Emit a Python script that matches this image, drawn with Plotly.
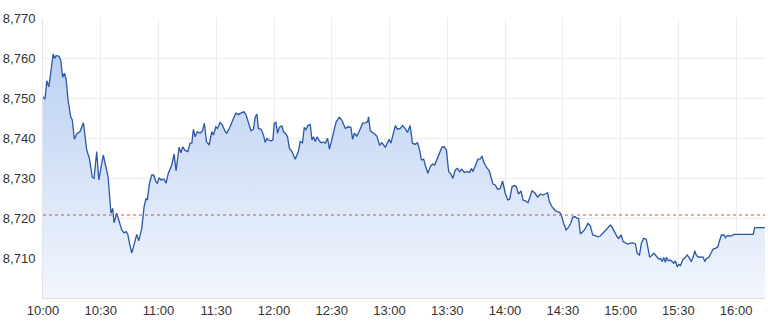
import plotly.graph_objects as go
from datetime import datetime, timedelta

# minutes after 10:00 open
minutes = [0, 1, 2, 3, 4, 5.3, 6, 6.8, 8.2, 9.2, 10.2, 11.1, 12, 13, 14.4, 15.2, 16.3, 17.5, 19.2, 21,
           22.7, 24.1, 25.6, 26.5, 27.9, 29, 31.3, 33.8, 35.3, 36.2, 36.9, 38.3, 40.9, 42.1, 43.1, 44,
           44.9, 46.1, 47.5, 48.7, 49.7, 51.3, 52.5, 53.5, 54.2, 55.3, 56.5, 57.5, 58.6, 59.4, 60.3,
           61.3, 62.9, 63.9, 65.1, 66.9, 68.1, 69.1, 70.7, 71.6, 72.6, 73.8, 75.2, 76.4, 77.3, 78.1,
           79, 80.2, 81.6, 82.8, 83.8, 84.9, 86.3, 87.7, 88.5, 89.8, 90.6, 92, 93.2, 94.6, 95.5, 97.2,
           98.9, 100.2, 101.5, 102.9, 104.3, 105.5, 106.7, 108, 109.3, 110.2, 111.1, 111.9, 113.3,
           114.5, 115.4, 116.3, 117.1, 118.5, 119.4, 120.1, 121, 121.8, 122.8, 124.1, 124.9, 125.8,
           127, 128, 129.3, 131, 132.7, 133.6, 134.8, 135.7, 136.5, 137.6, 138.8, 139.7, 140.5, 141.4,
           142.4, 143.5, 144.5, 145.7, 146.6, 147.8, 148.8, 149.8, 150.6, 152.3, 153.9, 155.2, 157,
           158.7, 159.9, 160.8, 161.7, 163, 164.4, 166, 167.4, 168.6, 169.1, 170, 171.7, 173.4, 174.8,
           176, 177.8, 179, 179.8, 180.7, 181.8, 183, 184.1, 185.6, 186.7, 188.1, 189.3, 190.7, 191.9,
           193.3, 194.5, 195.6, 196.5, 197.7, 198.5, 199.9, 201.1, 202.3, 203.4, 204.6, 205.8, 207.2,
           208.4, 209.5, 210.7, 211.9, 212.9, 214.1, 215.3, 216.4, 217.6, 218.8, 220.2, 221.6, 222.5,
           223.3, 224.5, 225.9, 227.1, 228, 228.8, 230.3, 231.8, 233.7, 234.9, 236.1, 237.5, 238.7,
           240.1, 241.3, 242.4, 243.6, 244.8, 245.8, 247, 248.3, 249.3, 250.5, 251.9, 252.8, 254,
           255.4, 256.9, 258.3, 259.7, 260.9, 262.1, 263, 264.4, 265.8, 267, 268.4, 269.2, 270.4,
           271.7, 273, 274.1, 275.1, 276.5, 277.4, 278.2, 279.1, 280.5, 281.7, 283.1, 284.3, 285.5,
           286.9, 288.3, 289.5, 290.9, 292.5, 293.8, 294.7, 295.6, 296.9, 298.2, 299, 300.3, 301.3,
           302.5, 303.7, 305.1, 306.5, 307.7, 308.6, 309.8, 310.8, 312, 313.3, 314.1, 315.1, 316.4,
           317.2, 318.1, 319, 319.8, 320.7, 321.6, 322.4, 323.3, 323.8, 324.7, 325.9, 326.8, 327.6,
           328.5, 329.4, 330.2, 331.1, 332.3, 333.7, 334.6, 335.8, 336.8, 337.7, 338.5, 339.4, 340.6,
           342, 342.9, 343.7, 344.6, 345.8, 347, 348.1, 349.3, 350.5, 351.5, 352.4, 353.6, 354.5,
           355.4, 356.5, 357.9, 358.8, 368.9, 369.6, 375]

prices = [8750.3, 8749.7, 8754.3, 8752.8, 8756.2, 8761, 8759.9, 8760.6, 8760.5, 8759.5, 8755.2, 8756.2,
          8754.7, 8749.5, 8745.3, 8744.5, 8739.7, 8741, 8741.6, 8743.8, 8737, 8734.9, 8730.2, 8729.9,
          8736.6, 8729.5, 8735.75, 8730.3, 8721.2, 8722.4, 8718.8, 8721.2, 8717, 8716.3, 8716.6, 8716,
          8713.7, 8711.2, 8713.7, 8715.9, 8714.3, 8717.4, 8722.8, 8724.9, 8724.5, 8728.7, 8730.75,
          8730.75, 8729.1, 8728.7, 8730.1, 8729.5, 8729.7, 8728.7, 8731.2, 8733.25, 8736, 8731.8,
          8737.7, 8736.3, 8737.8, 8736.9, 8736.6, 8738.7, 8738.7, 8742.2, 8740.3, 8741.6, 8741.2,
          8741.8, 8743.7, 8739.1, 8738.25, 8741.6, 8740.75, 8742.8, 8742.4, 8743.9, 8743.25, 8741.6,
          8741.2, 8742.8, 8744.9, 8746.2, 8745.9, 8746.2, 8746.6, 8745.75, 8744.1, 8741.8, 8742.2,
          8745.2, 8746, 8742.4, 8742.2, 8740.75, 8738.9, 8739.9, 8739.5, 8739.3, 8739.5, 8743.7,
          8743.9, 8741.2, 8742.7, 8743, 8741.6, 8741.2, 8740.3, 8737.4, 8736.6, 8734.7, 8736.75,
          8739.1, 8738.8, 8742.7, 8742, 8743.1, 8743.4, 8739.5, 8740.3, 8739.1, 8740.3, 8739.3,
          8738.8, 8739, 8738.7, 8739.9, 8737.2, 8739.1, 8740.75, 8744.1, 8745.2, 8744.5, 8742.4,
          8742.8, 8742.7, 8739.7, 8741.2, 8740.5, 8741.8, 8743.7, 8743.8, 8744.1, 8745.3, 8741.8,
          8741.2, 8740.5, 8738.25, 8738.8, 8737.7, 8738.8, 8739.7, 8738.7, 8740.75, 8743.1, 8742.2,
          8742.4, 8743.1, 8742.4, 8741.4, 8743.1, 8738.7, 8738.4, 8738.8, 8737, 8734.5, 8734.7,
          8733.25, 8731.2, 8732.8, 8733.5, 8733.25, 8734.7, 8735.75, 8737.7, 8737.8, 8737, 8731.6,
          8731, 8729.9, 8732, 8732.4, 8731.6, 8732.2, 8731.4, 8731.6, 8731.4, 8732.4, 8731.6, 8733,
          8734.7, 8734.75, 8735.5, 8734.1, 8732.7, 8731.8, 8728.5, 8728.25, 8727.2, 8727.4, 8729.25,
          8726.2, 8724.5, 8724.7, 8727.8, 8728.1, 8727.8, 8726, 8726.8, 8724.5, 8724.3, 8723.8,
          8724.9, 8726.8, 8726.3, 8725.2, 8726, 8725.75, 8726, 8726.3, 8724.1, 8722.8, 8722, 8721.6,
          8721.4, 8720.75, 8718.7, 8717, 8717.7, 8718.7, 8720.2, 8720.3, 8719.9, 8719.9, 8716,
          8716.6, 8717.4, 8718.7, 8718, 8715.75, 8715.6, 8715.3, 8715.5, 8716.2, 8717.2, 8717.7,
          8718.25, 8717.7, 8716.3, 8715.3, 8714.9, 8715.75, 8714.1, 8713.7, 8713.5, 8713.7, 8713.8,
          8713.5, 8711.2, 8710.75, 8713.7, 8714.9, 8714.7, 8712.8, 8710.2, 8710.75, 8711.2, 8710.75,
          8710.3, 8709.75, 8709.9, 8709.1, 8710.1, 8708.9, 8710.2, 8709.3, 8709.5, 8709.1, 8708.7,
          8709.25, 8707.8, 8708.4, 8708.1, 8709.5, 8710.2, 8710.75, 8709.9, 8709.1, 8710.3, 8711.8,
          8710.6, 8710.2, 8710.3, 8710.2, 8709.1, 8709.9, 8710.2, 8711.2, 8712.25, 8712.4, 8712.8,
          8714.5, 8715.75, 8715.75, 8715.1, 8715.6, 8715.5, 8715.6, 8715.9, 8715.9, 8717.6, 8717.6]

prev_close = 8720.75
y_ticks = [8710, 8720, 8730, 8740, 8750, 8760, 8770]
session_start = "2024-01-02 10:00:00"
session_end = "2024-01-02 16:15:00"

base = datetime.strptime(session_start, "%Y-%m-%d %H:%M:%S")
times = [base + timedelta(minutes=m) for m in minutes]

fig = go.Figure()
fig.add_trace(go.Scatter(
    x=times, y=prices, mode="lines",
    line=dict(color="#2c56a6", width=1.3),
    fill="tozeroy",
    fillgradient=dict(type="vertical",
                      colorscale=[[0, "rgb(242,246,253)"], [1, "rgb(186,208,242)"]],
                      start=8700, stop=8762),
    hoverinfo="skip",
))

fig.add_shape(type="line", xref="paper", x0=0, x1=1, yref="y", y0=prev_close, y1=prev_close,
              line=dict(color="#dd4a3c", width=1, dash="dot"))

font = "Liberation Sans, Arial, sans-serif"
fig.update_layout(
    width=768, height=329,
    margin=dict(l=43, r=3, t=18, b=31),
    paper_bgcolor="white", plot_bgcolor="white",
    showlegend=False,
    font=dict(family=font, size=13, color="#333333"),
    xaxis=dict(
        type="date",
        range=[session_start, session_end],
        tickformat="%H:%M", dtick=30 * 60 * 1000,
        tick0=session_start,
        showgrid=True, gridcolor="#ececec", gridwidth=1,
        showline=True, linecolor="#dcdcdc", linewidth=1,
        ticks="", zeroline=False,
        tickfont=dict(size=13, color="#333333"),
    ),
    yaxis=dict(
        range=[8700, 8770],
        tickvals=y_ticks,
        tickformat=",d",
        showgrid=True, gridcolor="#ececec", gridwidth=1,
        showline=True, linecolor="#e4e4e4", linewidth=1,
        ticks="", zeroline=False,
        tickfont=dict(size=13, color="#333333"),
        ticklabelstandoff=4,
    ),
)

fig.write_html("out.html")
